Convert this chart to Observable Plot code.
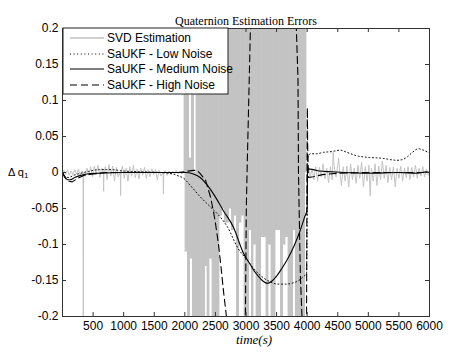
<!DOCTYPE html>
<html>
<head>
<meta charset="utf-8">
<script src="https://cdn.jsdelivr.net/npm/d3@7"></script>
<script src="https://cdn.jsdelivr.net/npm/@observablehq/plot@0.6"></script>
<style>
  html, body { margin: 0; padding: 0; background: #fff; }
  #chart { width: 474px; height: 355px; }
</style>
</head>
<body>
<div id="chart"></div>
<script>
// ---------- data ----------
const title = "Quaternion Estimation Errors";
const xLabel = "time(s)";
const seriesNames = ["SVD Estimation", "SaUKF - Low Noise", "SaUKF - Medium Noise", "SaUKF - High Noise"];
const xTicks = [500, 1000, 1500, 2000, 2500, 3000, 3500, 4000, 4500, 5000, 5500, 6000];
const yTicks = [-0.2, -0.15, -0.1, -0.05, 0, 0.05, 0.1, 0.15, 0.2];

// SVD estimation, quiet parts (time, value)
const svdTime = [0,25,50,80,110,140,170,200,230,260,290,320,336,340,344,370,400,430,460,490,520,550,580,610,640,668,672,676,700,730,760,790,820,850,880,910,945,950,955,980,1010,1040,1070,1100,1130,1160,1190,1220,1250,1280,1310,1340,1370,1400,1430,1460,1490,1520,1550,1580,1610,1645,1650,1655,1680,1710,1740,1770,1800,1830,1860,1890,1920,1950,1990];
const svdValue = [0,0.003,-0.003,0.004,-0.004,0.002,-0.003,0.004,-0.002,0.005,-0.004,0.002,0,-0.24,0,-0.005,0.006,-0.004,0.008,-0.006,0.009,-0.003,0.01,-0.007,0.006,0,-0.026,0,0.008,-0.01,0.011,-0.005,0.009,-0.012,0.007,-0.006,0,-0.032,0,0.009,-0.008,0.006,-0.012,0.008,-0.005,0.01,-0.007,0.005,-0.009,0.006,-0.004,0.007,-0.008,0.004,-0.006,0.005,-0.003,0.004,-0.01,0.003,-0.005,0,-0.03,0,0.003,-0.004,0.002,-0.003,0.002,-0.002,0.003,-0.002,0.002,-0.002,0.001];
const svdTime2 = [4000,4020,4050,4080,4110,4140,4170,4200,4230,4260,4290,4320,4350,4380,4410,4425,4440,4470,4500,4515,4530,4560,4590,4620,4650,4680,4710,4740,4770,4800,4830,4860,4890,4920,4950,4980,5010,5030,5050,5080,5110,5140,5170,5200,5230,5260,5290,5320,5350,5380,5410,5440,5470,5500,5530,5560,5590,5620,5650,5680,5710,5740,5770,5800,5830,5860,5890,5920,5950,5980,6000];
const svdValue2 = [0,0.01,-0.008,0.006,-0.01,0.008,-0.012,0.007,-0.006,0.012,-0.009,0.006,-0.014,0.008,-0.01,0.028,0.009,-0.006,0.01,0.02,0.004,-0.018,0.008,-0.012,0.009,-0.02,0.012,-0.01,0.006,-0.015,0.01,-0.008,0.014,-0.02,0.008,-0.012,0.01,-0.033,0.006,-0.012,0.012,-0.018,0.009,-0.01,0.016,-0.008,0.01,-0.014,0.007,-0.01,0.008,-0.02,0.006,-0.008,0.009,-0.012,0.006,-0.007,0.008,-0.01,0.007,-0.006,0.01,-0.008,0.006,-0.005,0.008,-0.006,0.005,-0.004,0.002];
// SVD estimation, diverging part: samples every 20 s from 2010 s
const svdBandStart = 2010, svdBandStep = 20;
const svdBand = [
  0.3,-0.11,0.3,-0.3,0.02,-0.12,0.3,-0.3,0.0,-0.3,
  0.3,-0.3,0.3,-0.3,0.3,-0.3,0.3,-0.13,0.3,-0.3,
  0.12,-0.12,0.3,-0.3,0.3,-0.3,0.3,-0.3,0.3,-0.06,
  0.3,-0.05,0.3,-0.07,0.3,-0.07,0.3,-0.05,0.3,-0.08,
  0.3,-0.06,0.3,-0.3,0.3,-0.07,0.3,-0.06,0.3,-0.3,
  0.3,-0.3,0.3,-0.08,0.3,-0.3,0.3,-0.1,0.3,-0.3,
  0.3,-0.3,0.3,-0.09,0.3,-0.09,0.3,-0.3,0.3,-0.1,
  0.3,-0.3,0.3,-0.3,0.3,-0.08,0.3,-0.08,0.3,-0.3,
  0.3,-0.1,0.3,-0.09,0.3,-0.3,0.3,-0.3,0.3,-0.08,
  0.3,-0.3,0.3,-0.3,0.3,-0.3,0.3,-0.3,0.3,0.0
];

// SaUKF low noise
const lowTime  = [0,40,100,180,300,450,600,800,1000,1300,1600,1800,1900,1980,2090,2255,2420,2580,2700,2860,3023,3150,3280,3400,3520,3650,3780,3880,3930,3990,4010,4050,4150,4265,4400,4540,4650,4820,5000,5200,5470,5560,5640,5720,5820,5900,6000];
const lowValue = [0,-0.005,-0.007,-0.004,-0.001,0.002,0.004,0.004,0.002,0.001,0,-0.002,-0.005,-0.008,-0.018,-0.034,-0.048,-0.062,-0.076,-0.104,-0.122,-0.136,-0.146,-0.152,-0.155,-0.155,-0.153,-0.149,-0.145,-0.14,0.02,0.026,0.026,0.028,0.029,0.031,0.028,0.023,0.021,0.02,0.017,0.018,0.022,0.028,0.033,0.031,0.027];
// SaUKF medium noise
const medTime  = [0,30,80,130,200,300,400,600,1000,1500,2000,2140,2250,2370,2470,2630,2795,2958,3050,3120,3200,3280,3350,3420,3500,3580,3680,3780,3880,3950,4000,4005,4020,4100,4200,4400,4600,5000,5500,5800,5950,6000];
const medValue = [0,-0.006,-0.01,-0.01,-0.007,-0.004,-0.002,-0.001,0,0,0,-0.002,-0.007,-0.018,-0.03,-0.053,-0.076,-0.112,-0.125,-0.135,-0.144,-0.151,-0.154,-0.151,-0.144,-0.134,-0.12,-0.103,-0.082,-0.064,-0.05,0.002,0.005,0.004,0.002,0.001,0,-0.001,0,-0.001,0.001,0];
// SaUKF high noise
const highTime  = [0,40,100,160,250,350,500,700,1000,1500,1900,2140,2200,2255,2340,2420,2470,2500,2549,2590,2631,2680,2700,2900,2985,2995,3005,3020,3045,3072,3090,3500,3800,3823,3850,3858,3875,3890,3915,3940,3985,3990,3997,4003,4008,4020,4100,4250,4500,5000,6000];
const highValue = [0,-0.006,-0.012,-0.013,-0.008,-0.004,-0.002,0,0,0,0,0.003,0.003,-0.002,-0.011,-0.034,-0.055,-0.07,-0.099,-0.13,-0.164,-0.2,-0.23,-0.3,-0.25,-0.15,-0.05,0.01,0.1,0.2,0.26,0.3,0.26,0.2,0.13,0.0,-0.08,-0.146,-0.2,-0.3,-0.25,-0.2,0.0,0.09,0.04,-0.007,-0.006,-0.003,-0.001,0,0];

// ---------- tables ----------
const zip = (ts, vs) => ts.map((t, i) => ({t, v: vs[i]}));
const svd1 = zip(svdTime, svdValue);
const svd2 = zip(svdTime2, svdValue2);
// each step of the diverging SVD signal spans from the previous sample to this one
const svdSegs = svdBand.map((v, i) => {
  const t = svdBandStart + i * svdBandStep;
  const pv = i === 0 ? svdValue[svdValue.length - 1] : svdBand[i - 1];
  return {t0: t - svdBandStep, t1: t, a: Math.min(pv, v), b: Math.max(pv, v)};
});
const low = zip(lowTime, lowValue);
const med = zip(medTime, medValue);
const high = zip(highTime, highValue);

const W = 474, H = 355;
const mL = 62, mR = 45, mT = 28, mB = 39;
const plotW = W - mL - mR, plotH = H - mT - mB;
const fmt = d => String(+d.toFixed(2));
const axisColor = "#333";
const svdColor = "#c4c4c4";
const lowDash = "1,2.6", highDash = "7,4";
const sans = "'Liberation Sans', Arial, sans-serif";
const serif = "'Liberation Serif', 'Times New Roman', serif";

const chart = Plot.plot({
  width: W, height: H,
  marginLeft: mL, marginRight: mR, marginTop: mT, marginBottom: mB,
  style: {fontFamily: sans, fontSize: "12px", color: "#000", background: "#fff"},
  x: {domain: [0, 6000], label: null},
  y: {domain: [-0.2, 0.2], label: null},
  marks: [
    Plot.line(svd1, {x: "t", y: "v", stroke: svdColor, strokeWidth: 1, clip: true}),
    Plot.rect(svdSegs, {x1: "t0", x2: "t1", y1: "a", y2: "b", fill: svdColor, stroke: svdColor, strokeWidth: 0.4, shapeRendering: "crispEdges", clip: true}),
    Plot.line(svd2, {x: "t", y: "v", stroke: svdColor, strokeWidth: 1, clip: true}),
    Plot.line(low, {x: "t", y: "v", stroke: "#000", strokeWidth: 1, strokeDasharray: lowDash, curve: "monotone-x", clip: true}),
    Plot.line(high, {x: "t", y: "v", stroke: "#000", strokeWidth: 1.1, strokeDasharray: highDash, clip: true}),
    Plot.line(med, {x: "t", y: "v", stroke: "#000", strokeWidth: 1.1, curve: "monotone-x", clip: true}),
    Plot.frame({stroke: axisColor}),
    Plot.tickX(xTicks, {x: d => d, insetTop: plotH - 4, stroke: axisColor}),
    Plot.tickX(xTicks, {x: d => d, insetBottom: plotH - 4, stroke: axisColor}),
    Plot.tickY(yTicks, {y: d => d, insetRight: plotW - 4, stroke: axisColor}),
    Plot.tickY(yTicks, {y: d => d, insetLeft: plotW - 4, stroke: axisColor}),
    Plot.axisX(xTicks, {tickSize: 0, tickPadding: 5, tickFormat: d => String(d), label: null}),
    Plot.axisY(yTicks, {tickSize: 0, tickPadding: 4, tickFormat: fmt, label: null}),
    Plot.text([title], {frameAnchor: "top", dy: -12, fontFamily: serif, fontSize: 12}),
    Plot.text([xLabel], {frameAnchor: "bottom", dy: 27, dx: 8, fontFamily: serif, fontStyle: "italic", fontSize: 13})
  ]
});
document.getElementById("chart").appendChild(chart);

const svg = d3.select(chart);
// y label "Δ q1"
const yl = svg.append("text").attr("x", 8).attr("y", 176).attr("text-anchor", "start")
  .attr("font-family", sans).attr("font-size", 11).attr("fill", "#000");
yl.append("tspan").text("Δ q");
yl.append("tspan").attr("font-size", 8).attr("dy", 2).text("1");

// legend
const lg = svg.append("g").attr("text-anchor", "start");
lg.append("rect").attr("x", 63).attr("y", 28).attr("width", 165).attr("height", 66)
  .attr("fill", "#fff").attr("stroke", "#222");
const styles = [
  {stroke: "#d0d0d0", width: 2, dash: null},
  {stroke: "#000", width: 1, dash: lowDash},
  {stroke: "#000", width: 1.1, dash: null},
  {stroke: "#000", width: 1.1, dash: highDash}
];
const rowY = [38, 54, 69, 85];
seriesNames.forEach((name, i) => {
  const s = styles[i];
  const ln = lg.append("line").attr("x1", 70).attr("x2", 104).attr("y1", rowY[i]).attr("y2", rowY[i])
    .attr("stroke", s.stroke).attr("stroke-width", s.width);
  if (s.dash) ln.attr("stroke-dasharray", s.dash);
  lg.append("text").attr("x", 107).attr("y", rowY[i]).attr("dy", "0.35em")
    .attr("font-family", sans).attr("font-size", 12).attr("fill", "#000").text(name);
});
</script>
</body>
</html>
